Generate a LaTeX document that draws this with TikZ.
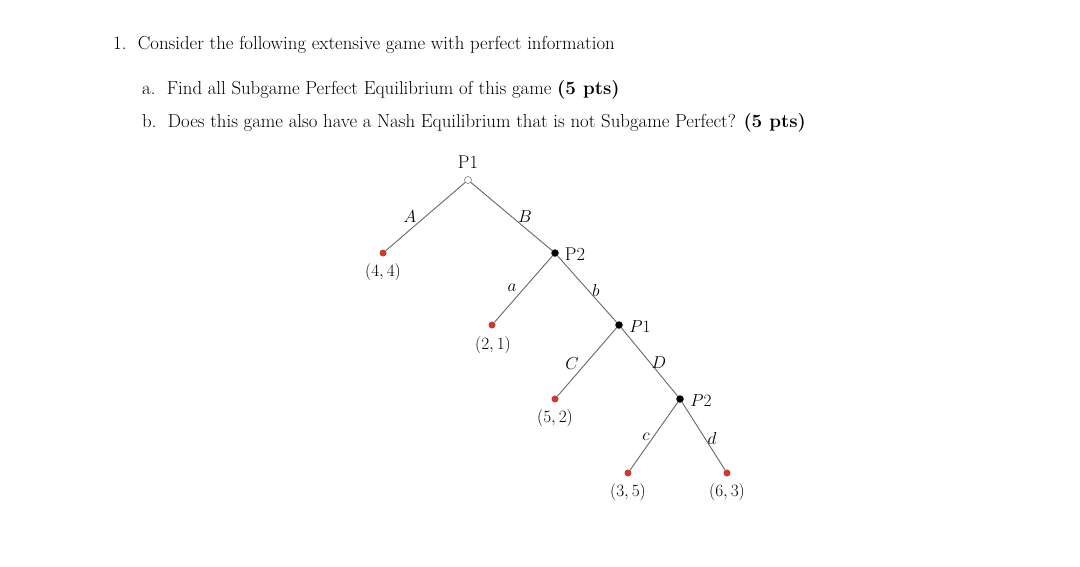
\documentclass[tikz,border=0pt]{standalone}
\begin{document}
\begin{tikzpicture}[x=1pt,y=-1pt,
  txt/.style={anchor=base west,inner sep=0pt,font=\fontsize{18.8}{22}\selectfont},
  lbl/.style={inner sep=1pt,font=\fontsize{18.5}{22}\selectfont},
  leaf/.style={circle,fill={rgb,255:red,200;green,60;blue,50},inner sep=0pt,minimum size=7pt},
  dec/.style={circle,fill=black,inner sep=0pt,minimum size=7.5pt},
  root/.style={circle,draw=black!70,fill=white,inner sep=0pt,minimum size=7pt},
  edge/.style={draw=black!60,line width=0.9pt}]
\useasboundingbox (0,0) rectangle (1080,566);
\node[txt] (t1) at (113,49) {1.\ \ Consider the following extensive game with perfect information};
\node[txt] (t2) at (142,94) {a.\ \ Find all Subgame Perfect Equilibrium of this game \textbf{(5 pts)}};
\node[txt] (t3) at (142,127) {b.\ \ Does this game also have a Nash Equilibrium that is not Subgame Perfect? \textbf{(5 pts)}};
\node[root] (r) at (468,180) {};
\node[leaf] (l1) at (383,253) {};
\node[dec] (p2a) at (555,253) {};
\node[leaf] (l2) at (492,325) {};
\node[dec] (p1b) at (619,325) {};
\node[leaf] (l3) at (555,399) {};
\node[dec] (p2b) at (680,399) {};
\node[leaf] (l4) at (628,473) {};
\node[leaf] (l5) at (727,473) {};
\draw[edge] (r) -- (l1); \draw[edge] (r) -- (p2a);
\draw[edge] (p2a) -- (l2); \draw[edge] (p2a) -- (p1b);
\draw[edge] (p1b) -- (l3); \draw[edge] (p1b) -- (p2b);
\draw[edge] (p2b) -- (l4); \draw[edge] (p2b) -- (l5);
\node[lbl] (n0) at (468,162) {P1};
\node[lbl] (n1) at (575,254) {P2};
\node[lbl] (n2) at (640,327) {$P1$};
\node[lbl] (n3) at (701,401) {$P2$};
\node[lbl] (o1) at (383,272) {$(4,4)$};
\node[lbl] (o2) at (493,345) {$(2,1)$};
\node[lbl] (o3) at (555,418) {$(5,2)$};
\node[lbl] (o4) at (628,492) {$(3,5)$};
\node[lbl] (o5) at (727,492) {$(6,3)$};
\node[lbl] (eA) at (410,217) {$A$};
\node[lbl] (eB) at (525,217) {$B$};
\node[lbl] (ea) at (512,288) {$a$};
\node[lbl] (eb) at (596,290) {$b$};
\node[lbl] (eC) at (572,364) {$C$};
\node[lbl] (eD) at (659,363) {$D$};
\node[lbl] (ec) at (646,437) {$c$};
\node[lbl] (ed) at (712,438) {$d$};
\end{tikzpicture}
\end{document}
